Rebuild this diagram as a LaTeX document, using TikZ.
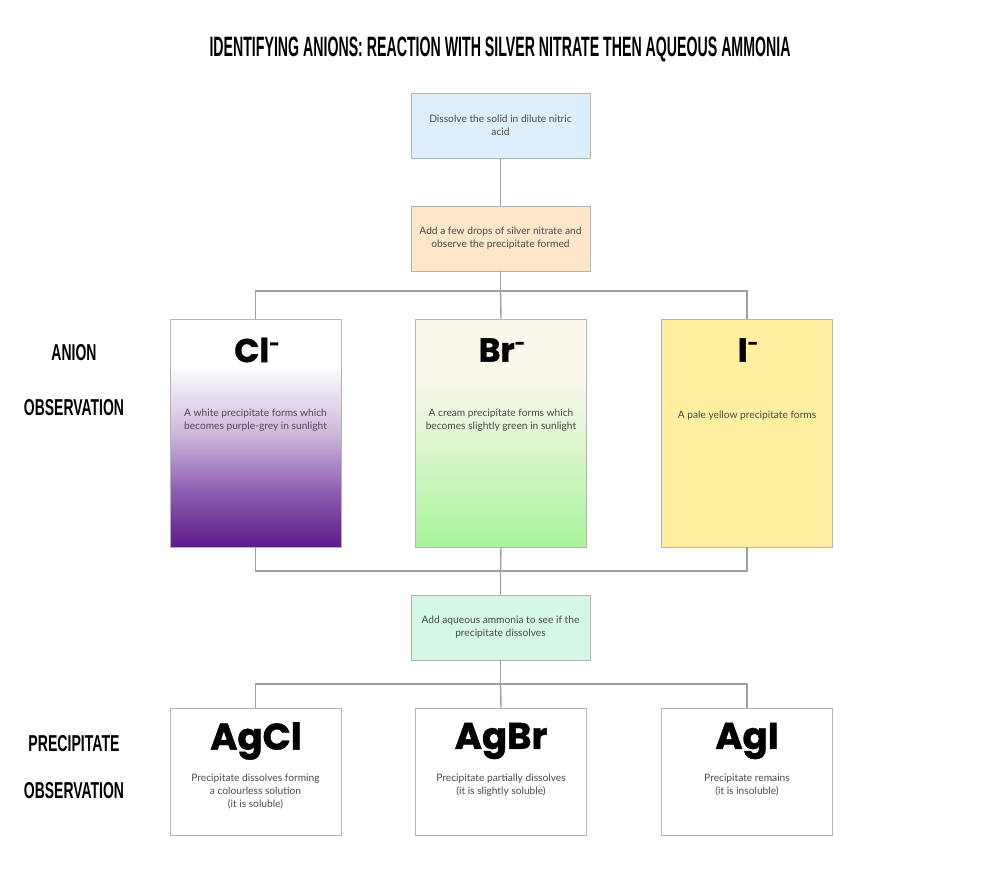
\documentclass[tikz,border=0pt]{standalone}
\usepackage{fontspec}
\usepackage{graphicx}
\setmainfont{Lato}
\newfontfamily\headfont{Liberation Sans}[FakeStretch=0.62]
\newfontfamily\heavyfont{Poppins}[BoldFeatures={FakeBold=1.2}]
\definecolor{linec}{HTML}{A0A0A0}
\definecolor{borderc}{HTML}{B4B4B4}
\definecolor{txtc}{HTML}{4A4A4A}
\definecolor{bluef}{HTML}{DCEFFB}
\definecolor{peachf}{HTML}{FDE6C9}
\definecolor{mintf}{HTML}{D4F8E5}
\definecolor{yellowf}{HTML}{FDEEA0}
\definecolor{purpD}{HTML}{5C1A8B}
\definecolor{purpM}{HTML}{8C5DB0}
\definecolor{purpL}{HTML}{CDB8DD}
\definecolor{greenD}{HTML}{A8F59B}
\definecolor{greenM}{HTML}{D6F5C8}
\definecolor{creamT}{HTML}{FBF8EC}
\pgfdeclareverticalshading{clshade}{100bp}{color(0bp)=(purpD); color(25bp)=(purpD); color(37bp)=(purpM); color(50bp)=(purpL); color(65bp)=(white); color(100bp)=(white)}
\pgfdeclareverticalshading{brshade}{100bp}{color(0bp)=(greenD); color(25bp)=(greenD); color(45bp)=(greenM); color(62bp)=(creamT); color(100bp)=(creamT)}
\tikzset{
  conn/.style={draw=linec, line width=1.4pt},
  stepbox/.style={draw=borderc, line width=0.9pt, minimum width=179pt, minimum height=65pt, inner sep=0pt},
  bigbox/.style={draw=borderc, line width=0.9pt, minimum width=171pt, minimum height=228pt, inner sep=0pt},
  resbox/.style={draw=borderc, line width=0.9pt, fill=white, minimum width=171pt, minimum height=127pt, inner sep=0pt},
  smalltxt/.style={font=\fontsize{10.2}{13}\selectfont, text=txtc, align=center, inner sep=0pt},
  formula/.style={font=\heavyfont\bfseries\fontsize{33}{36}\selectfont, inner sep=0pt},
  agformula/.style={font=\heavyfont\bfseries\fontsize{37}{40}\selectfont, inner sep=0pt},
  sidelab/.style={font=\headfont\bfseries\fontsize{23}{25}\selectfont, inner sep=0pt},
}
\newcommand{\minus}{\raisebox{0.36em}{\scalebox{0.55}{-}}}
\begin{document}
\begin{tikzpicture}[x=1pt,y=-1pt]
\useasboundingbox (0,0) rectangle (1000,881);
\fill[white] (0,0) rectangle (1000,881);
% title
\node[font=\headfont\bfseries\fontsize{28}{30}\selectfont, inner sep=0pt] (title) at (500,49) {\resizebox{581pt}{\height}{IDENTIFYING ANIONS: REACTION WITH SILVER NITRATE THEN AQUEOUS AMMONIA}};
% side labels
\node[sidelab] (lanion) at (74,353) {\resizebox{45pt}{\height}{ANION}};
\node[sidelab] (lobs1) at (74,408) {\resizebox{100pt}{\height}{OBSERVATION}};
\node[sidelab] (lprec) at (74,744) {\resizebox{91pt}{\height}{PRECIPITATE}};
\node[sidelab] (lobs2) at (74,791) {\resizebox{100pt}{\height}{OBSERVATION}};
% step boxes
\node[stepbox, fill=bluef] (s1) at (500.5,125.5) {};
\node[smalltxt] (s1t) at (s1.center) {Dissolve the solid in dilute nitric\\acid};
\node[stepbox, fill=peachf] (s2) at (500.5,238.5) {};
\node[smalltxt] (s2t) at (s2.center) {Add a few drops of silver nitrate and\\observe the precipitate formed};
% anion boxes
\node[bigbox, shading=clshade] (cl) at (255.5,433) {};
\node[bigbox, shading=brshade] (br) at (501,433) {};
\node[bigbox, fill=yellowf] (io) at (747,433) {};
\node[formula] (clT) at (257,350) {Cl\minus};
\node[formula] (brT) at (502,350) {Br\minus};
\node[formula] (ioT) at (748,350) {I\minus};
\node[smalltxt] (clD) at (255.5,420) {A white precipitate forms which\\becomes purple-grey in sunlight};
\node[smalltxt] (brD) at (501,420) {A cream precipitate forms which\\becomes slightly green in sunlight};
\node[smalltxt] (ioD) at (747,416) {A pale yellow precipitate forms};
% ammonia step
\node[stepbox, fill=mintf] (s3) at (500.5,627.5) {};
\node[smalltxt] (s3t) at (s3.center) {Add aqueous ammonia to see if the\\precipitate dissolves};
% result boxes
\node[resbox] (agcl) at (255.5,771.5) {};
\node[resbox] (agbr) at (501,771.5) {};
\node[resbox] (agi) at (747,771.5) {};
\node[agformula] (agclT) at (256,741) {AgCl};
\node[agformula] (agbrT) at (501,741) {AgBr};
\node[agformula] (agiT) at (747,741) {AgI};
\node[smalltxt] (agclD) at (255.5,791) {Precipitate dissolves forming\\a colourless solution\\(it is soluble)};
\node[smalltxt] (agbrD) at (501,785) {Precipitate partially dissolves\\(it is slightly soluble)};
\node[smalltxt] (agiD) at (747,785) {Precipitate remains\\(it is insoluble)};
% junctions
\coordinate (j1) at (500.5,291);
\coordinate (j2) at (500.5,571);
\coordinate (j3) at (500.5,684);
% connectors
\draw[conn] (s1.south) -- (s2.north);
\draw[conn] (s2.south) -- (j1);
\draw[conn] (cl.north) -- (cl.north |- j1) -- (io.north |- j1) -- (io.north);
\draw[conn] (j1) -- (br.north);
\draw[conn] (cl.south) -- (cl.south |- j2) -- (io.south |- j2) -- (io.south);
\draw[conn] (br.south) -- (j2) -- (s3.north);
\draw[conn] (s3.south) -- (j3);
\draw[conn] (agcl.north) -- (agcl.north |- j3) -- (agi.north |- j3) -- (agi.north);
\draw[conn] (j3) -- (agbr.north);
\end{tikzpicture}
\end{document}
